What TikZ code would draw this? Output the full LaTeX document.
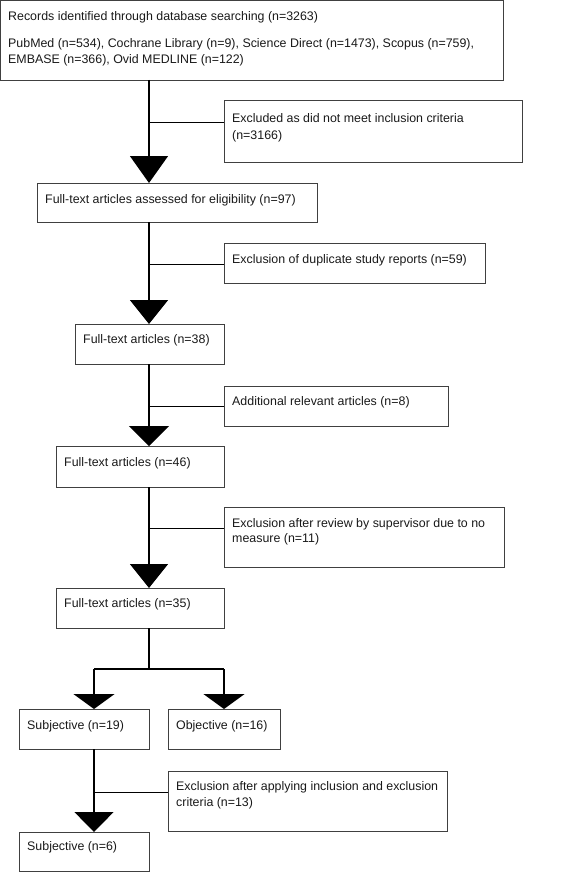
\documentclass[tikz,border=0pt]{standalone}
\usepackage{fontspec}
\setmainfont{Liberation Sans}
\usetikzlibrary{arrows.meta}
\begin{document}
\begin{tikzpicture}[x=1pt,y=-1pt,
  box/.style={draw=black!75,line width=0.9pt,anchor=north west,inner sep=0pt,outer sep=0pt},
  txt/.style={anchor=west,inner sep=0pt,font=\fontsize{12.4}{14.5}\selectfont,text=black!90},
  conn/.style={draw=black,line width=1.4pt},
  tri/.style={-{Triangle[width=#1]}},
]
\useasboundingbox (0,0) rectangle (568,872);
\coordinate (col) at (149,0);
% boxes
\node[box,minimum width=503pt,minimum height=79.5pt] (b1) at (0.5,0.5) {};
\node[box,minimum width=298pt,minimum height=62pt] (e1) at (224,100) {};
\node[box,minimum width=280pt,minimum height=39pt] (b2) at (37,183) {};
\node[box,minimum width=261pt,minimum height=40pt] (e2) at (224,243) {};
\node[box,minimum width=149pt,minimum height=40pt] (b3) at (75,324) {};
\node[box,minimum width=224pt,minimum height=40pt] (e3) at (224,386) {};
\node[box,minimum width=168pt,minimum height=41pt] (b4) at (56,446) {};
\node[box,minimum width=280pt,minimum height=60pt] (e4) at (224,507) {};
\node[box,minimum width=168pt,minimum height=40pt] (b5) at (56,588) {};
\node[box,minimum width=130pt,minimum height=40pt] (s1) at (19,709) {};
\node[box,minimum width=112pt,minimum height=40pt] (o1) at (168,709) {};
\node[box,minimum width=279pt,minimum height=60pt] (e5) at (168,771) {};
\node[box,minimum width=130pt,minimum height=39pt] (s2) at (19,832) {};
% texts
\node[txt] (t1a) at (8,17) {Records identified through database searching (n=3263)};
\node[txt] (t1b) at (8,44) {PubMed (n=534), Cochrane Library (n=9), Science Direct (n=1473), Scopus (n=759),};
\node[txt] (t1c) at (8,60) {EMBASE (n=366), Ovid MEDLINE (n=122)};
\node[txt] (te1a) at (232,118) {Excluded as did not meet inclusion criteria};
\node[txt] (te1b) at (232,136) {(n=3166)};
\node[txt] (tb2) at (45,200) {Full-text articles assessed for eligibility (n=97)};
\node[txt] (te2) at (232,260) {Exclusion of duplicate study reports (n=59)};
\node[txt] (tb3) at (83,340) {Full-text articles (n=38)};
\node[txt] (te3) at (232,402) {Additional relevant articles (n=8)};
\node[txt] (tb4) at (64,463) {Full-text articles (n=46)};
\node[txt] (te4a) at (232,524) {Exclusion after review by supervisor due to no};
\node[txt] (te4b) at (232,539) {measure (n=11)};
\node[txt] (tb5) at (64,604) {Full-text articles (n=35)};
\node[txt] (ts1) at (27,726) {Subjective (n=19)};
\node[txt] (to1) at (176,726) {Objective (n=16)};
\node[txt] (te5a) at (176,787) {Exclusion after applying inclusion and exclusion};
\node[txt] (te5b) at (176,803) {criteria (n=13)};
\node[txt] (ts2) at (27,847) {Subjective (n=6)};
% main connectors
\draw[conn,tri={38pt,length=27pt}] (b1.south -| col) -- (b2.north -| col);
\draw[conn,tri={38pt,length=24pt}] (b2.south -| col) -- (b3.north -| col);
\draw[conn,tri={40pt,length=20pt}] (b3.south -| col) -- (b4.north -| col);
\draw[conn,tri={38pt,length=24pt}] (b4.south -| col) -- (b5.north -| col);
% branches to side boxes
\coordinate (j1) at (149,123);
\coordinate (j2) at (149,264);
\coordinate (j3) at (149,406);
\coordinate (j4) at (149,528);
\draw[conn,line width=1pt] (j1) -- (j1 -| e1.west);
\draw[conn,line width=1pt] (j2) -- (j2 -| e2.west);
\draw[conn,line width=1pt] (j3) -- (j3 -| e3.west);
\draw[conn,line width=1pt] (j4) -- (j4 -| e4.west);
% split
\coordinate (sp) at (149,669);
\coordinate (spl) at (94,669);
\coordinate (spr) at (224,669);
\draw[conn] (b5.south -| col) -- (sp);
\draw[conn] (spl) -- (spr);
\draw[conn,tri={41pt,length=15pt}] (spl) -- (s1.north -| spl);
\draw[conn,tri={41pt,length=15pt}] (spr) -- (o1.north -| spr);
% last
\draw[conn,tri={39pt,length=20pt}] (s1.south -| spl) -- (s2.north -| spl);
\coordinate (j5) at (94,792);
\draw[conn,line width=1pt] (j5) -- (j5 -| e5.west);
\end{tikzpicture}
\end{document}
